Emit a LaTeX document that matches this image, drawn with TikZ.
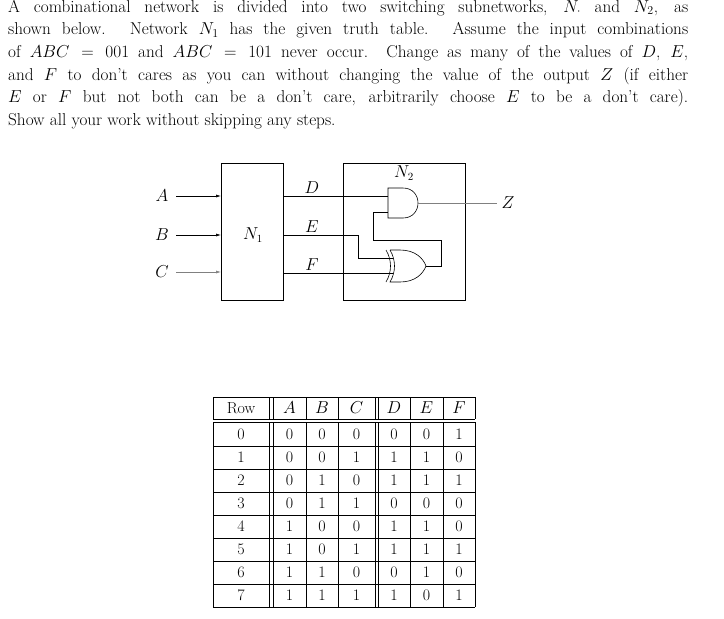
\documentclass[tikz,border=0pt]{standalone}
\usepackage{fontspec}
\usetikzlibrary{arrows.meta}
\begin{document}
\begin{tikzpicture}[x=1pt,y=-1pt,
  wire/.style={line width=0.6pt},
  arr/.style={wire,-{Latex[length=5pt,width=3pt]}},
  lbl/.style={font=\fontsize{16}{18}\selectfont,inner sep=0pt},
  cell/.style={font=\fontsize{16}{18}\selectfont,inner sep=0pt}]
\useasboundingbox (0,0) rectangle (724,619);
\node[anchor=north west,inner sep=0pt,text width=680pt,align=justify,font=\fontsize{17.2}{22.6}\selectfont] (txt) at (8,0)
{A combinational network is divided into two switching subnetworks, $N_{\cdot}$ and $N_2$, as\linebreak
shown below. Network $N_1$ has the given truth table. Assume the input combinations\linebreak
of $ABC=001$ and $ABC=101$ never occur. Change as many of the values of $D$, $E$,\linebreak
and $F$ to don't cares as you can without changing the value of the output $Z$ (if either\linebreak
$E$ or $F$ but not both can be a don't care, arbitrarily choose $E$ to be a don't care).\linebreak
Show all your work without skipping any steps.};
% N1, N2 boxes
\draw[wire] (221,163) rectangle (283,300);
\node[lbl] (n1) at (253,235) {$N_1$};
\draw[wire] (343,163) rectangle (465,300);
\node[lbl] (n2) at (404,173) {$N_2$};
% inputs
\node[lbl] (A) at (162,196) {$A$};
\node[lbl] (B) at (162,235) {$B$};
\node[lbl] (C) at (162,272) {$C$};
\draw[arr] (176,196) -- (221,196);
\draw[arr] (176,235) -- (221,235);
\draw[arr,gray] (176,272) -- (221,272);
% AND gate
\draw[wire] (388,188) -- (403,188) .. controls (423,188) and (423,218) .. (403,218) -- (388,218) -- cycle;
% XOR gate
\draw[wire] (390,250) -- (400,250) .. controls (415,250) and (423,258) .. (426,266)
  .. controls (423,274) and (415,282) .. (400,282) -- (390,282)
  .. controls (396,272) and (396,260) .. (390,250);
\draw[wire] (386,250) .. controls (392,260) and (392,272) .. (386,282);
% wires
\node[lbl] (D) at (312,188) {$D$};
\node[lbl] (E) at (312,227) {$E$};
\node[lbl] (F) at (312,265) {$F$};
\draw[wire] (283,196) -- (388,196);
\draw[wire] (283,235) -- (358,235) -- (358,258) -- (393,258);
\draw[wire] (283,273) -- (393,273);
\draw[wire] (426,266) -- (441,266) -- (441,240) -- (373,240) -- (373,212) -- (388,212);
\draw[wire,gray] (418,203) -- (497,203);
\node[lbl] (Z) at (508,203) {$Z$};
% table
\def\xs{213,269,273,306,338,375,378,410,443,475}
\foreach \x in \xs {\draw[line width=0.5pt] (\x,397) -- (\x,419); \draw[line width=0.5pt] (\x,422) -- (\x,607);}
\draw[line width=0.5pt] (213,397) -- (475,397);
\draw[line width=0.5pt] (213,419) -- (475,419);
\draw[line width=0.5pt] (213,422) -- (475,422);
\foreach \y in {446,469,492,515,538,561,584,607} \draw[line width=0.5pt] (213,\y) -- (475,\y);
\node[cell] (hR) at (241,408) {Row};
\node[cell] (hA) at (289.5,408) {$A$};
\node[cell] (hB) at (322,408) {$B$};
\node[cell] (hC) at (356.5,408) {$C$};
\node[cell] (hD) at (394,408) {$D$};
\node[cell] (hE) at (426.5,408) {$E$};
\node[cell] (hF) at (459,408) {$F$};
\foreach \r/\a/\b/\c/\d/\e/\f [count=\i from 0] in {0/0/0/0/0/0/1,1/0/0/1/1/1/0,2/0/1/0/1/1/1,3/0/1/1/0/0/0,4/1/0/0/1/1/0,5/1/0/1/1/1/1,6/1/1/0/0/1/0,7/1/1/1/1/0/1}{
  \pgfmathsetmacro\yy{434+23*\i}
  \node[cell] (r\i) at (241,\yy) {\r};
  \node[cell] (a\i) at (289.5,\yy) {\a};
  \node[cell] (b\i) at (322,\yy) {\b};
  \node[cell] (c\i) at (356.5,\yy) {\c};
  \node[cell] (d\i) at (394,\yy) {\d};
  \node[cell] (e\i) at (426.5,\yy) {\e};
  \node[cell] (f\i) at (459,\yy) {\f};
}
\end{tikzpicture}
\end{document}
